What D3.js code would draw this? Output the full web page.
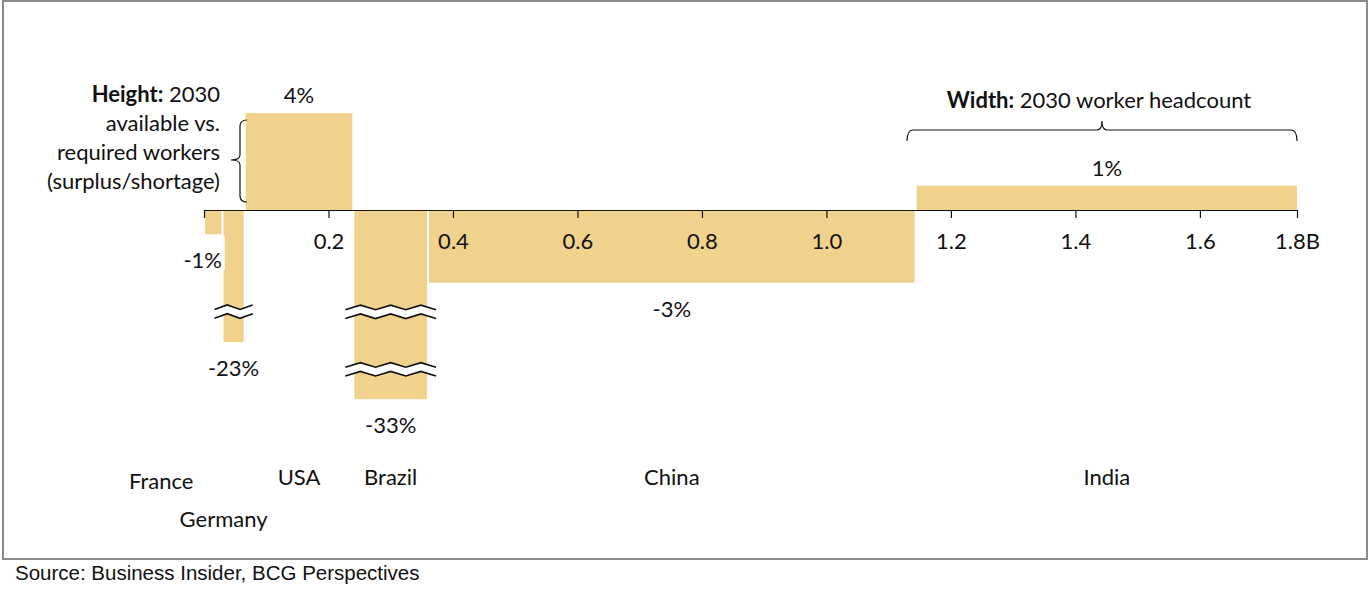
<!DOCTYPE html>
<html>
<head>
<meta charset="utf-8">
<script src="https://cdn.jsdelivr.net/npm/d3@7"></script>
<style>
  html, body { margin: 0; padding: 0; background: #fff; }
  svg { display: block; }
  text { font-family: Lato, "Open Sans", sans-serif; fill: #111; }
  text.source { font-family: "Liberation Sans", Arial, sans-serif; }
</style>
</head>
<body>
<svg id="chart" width="1369" height="595"></svg>
<script>
// ---------------- data ----------------
const countries   = ["France", "Germany", "USA", "Brazil", "China", "India"];
const headcount   = [0.0313, 0.0357, 0.1745, 0.12, 0.7835, 0.611];   // 2030 worker headcount, billions (bar width)
const gapPct      = [-1, -23, 4, -33, -3, 1];                         // 2030 available vs required workers, %
const shownPct    = [-1, -5.45, 4, -7.8, -3, 1];                      // drawn depth after axis breaks
const breakLevels = [[], [-4.19], [], [-4.2, -6.57], [], []];         // where the broken bars are cut
const tickValues  = [0, 0.2, 0.4, 0.6, 0.8, 1.0, 1.2, 1.4, 1.6];
const tickLabels  = ["", "0.2", "0.4", "0.6", "0.8", "1.0", "1.2", "1.4", "1.6"];
const endTickLabel = "1.8B";
const sourceText  = "Source: Business Insider, BCG Perspectives";

// ---------------- layout ----------------
const svg = d3.select("#chart");
const barColor = "#F0D28C";
const total = d3.sum(headcount);

const x = d3.scaleLinear().domain([0, total]).range([204, 1297]);
const y = d3.scaleLinear().domain([0, 4]).range([210, 113]);

// frame
svg.append("rect")
  .attr("x", 3).attr("y", 1).attr("width", 1364).attr("height", 558)
  .attr("fill", "none").attr("stroke", "#8a8a8a").attr("stroke-width", 2);

// cumulative positions
let cum = 0;
const bars = countries.map((c, i) => {
  const d = { name: c, w: headcount[i], v: gapPct[i], shown: shownPct[i], breaks: breakLevels[i], start: cum, i };
  cum += headcount[i];
  d.end = cum;
  return d;
});
const lastIdx = bars.length - 1;
bars.forEach(d => {
  d.x0 = x(d.start) + (d.i === 0 ? 1 : 0);
  d.x1 = x(d.end) - (d.i === lastIdx ? 0 : 2);
  d.cx = (d.x0 + d.x1) / 2;
});

// bars
svg.append("g").selectAll("rect").data(bars).join("rect")
  .attr("x", d => d.x0)
  .attr("width", d => d.x1 - d.x0)
  .attr("y", d => d.shown >= 0 ? y(d.shown) : y(0))
  .attr("height", d => Math.abs(y(d.shown) - y(0)))
  .attr("fill", barColor);

// axis
const allTicks = tickValues.concat([total]);
const allLabels = tickLabels.concat([endTickLabel]);
const axis = d3.axisBottom(x)
  .tickValues(allTicks)
  .tickFormat((d, i) => allLabels[i])
  .tickSize(8)
  .tickPadding(15)
  .tickSizeOuter(0);
const gAxis = svg.append("g").attr("transform", `translate(0,${y(0)})`).call(axis);
gAxis.selectAll("path.domain").attr("stroke", "#111").attr("stroke-width", 1.2);
gAxis.selectAll(".tick line").attr("stroke", "#111").attr("stroke-width", 1.2);
gAxis.selectAll(".tick text")
  .attr("font-family", "Lato, 'Open Sans', sans-serif")
  .attr("font-size", 22).attr("fill", "#111");

// axis breaks
const breakG = svg.append("g");
bars.forEach(d => {
  d.breaks.forEach(b => {
    const c = y(b);
    const xa = d.x0 - 9, xb = d.x1 + 9;
    const n = Math.max(2, Math.round((xb - xa) / 14));
    const seg = (xb - xa) / n;
    const mk = off => d3.range(n + 1).map(k => [xa + k * seg, c + off + (k % 2 ? -2.3 : 2.3)]);
    const l1 = mk(-4.4), l2 = mk(4.4);
    breakG.append("path")
      .attr("d", d3.line()(l1.concat(l2.slice().reverse())) + "Z")
      .attr("fill", "#fff").attr("stroke", "none");
    [l1, l2].forEach(l => breakG.append("path")
      .attr("d", d3.line()(l))
      .attr("fill", "none").attr("stroke", "#111").attr("stroke-width", 1.6));
  });
});

// value labels
const fmt = v => `${v}%`;
const valueNudge = { France: -10.5 };
const labG = svg.append("g");
bars.forEach(d => {
  const lx = d.cx + (valueNudge[d.name] || 0);
  const ly = d.v >= 0 ? y(d.shown) - 10 : y(d.shown) + 34;
  if (d.name === "France") {
    labG.append("rect")
      .attr("x", lx - 21).attr("y", y(d.shown) + 2)
      .attr("width", 43).attr("height", ly + 2 - (y(d.shown) + 2))
      .attr("fill", "#fff");
  }
  labG.append("text")
    .attr("x", lx).attr("y", ly)
    .attr("text-anchor", "middle").attr("font-size", 22)
    .text(fmt(d.v));
});

// country labels
const nameNudge = { France: [-52, 4], Germany: [-10, 42] };
svg.append("g").selectAll("text").data(bars).join("text")
  .attr("x", d => d.cx + ((nameNudge[d.name] || [0, 0])[0]))
  .attr("y", d => 485 + ((nameNudge[d.name] || [0, 0])[1]))
  .attr("text-anchor", "middle").attr("font-size", 22)
  .text(d => d.name);

// height annotation
const hLines = [["Height:", " 2030"], [null, "available vs."], [null, "required workers"], [null, "(surplus/shortage)"]];
hLines.forEach((l, i) => {
  const t = svg.append("text").attr("x", 220).attr("y", 102 + i * 29)
    .attr("text-anchor", "end").attr("font-size", 22);
  if (l[0]) t.append("tspan").attr("font-weight", "bold").text(l[0]);
  t.append("tspan").text(l[1]);
});
svg.append("path")
  .attr("d", "M247,120 Q240,120 240,126 L240,155 Q240,160 231,160 Q240,160 240,165 L240,196 Q240,202 247,202")
  .attr("fill", "none").attr("stroke", "#111").attr("stroke-width", 1.2);

// width annotation
const wt = svg.append("text").attr("x", 1099).attr("y", 108)
  .attr("text-anchor", "middle").attr("font-size", 22);
wt.append("tspan").attr("font-weight", "bold").text("Width:");
wt.append("tspan").text(" 2030 worker headcount");
const bx0 = 907, bx1 = x(total), bm = 1102;
svg.append("path")
  .attr("d", `M${bx0},141 Q${bx0},130 ${bx0 + 6},130 L${bm - 5},130 Q${bm},130 ${bm},121 Q${bm},130 ${bm + 5},130 L${bx1 - 6},130 Q${bx1},130 ${bx1},141`)
  .attr("fill", "none").attr("stroke", "#111").attr("stroke-width", 1.2);

// source
svg.append("text").attr("class", "source").attr("x", 15).attr("y", 580)
  .attr("font-size", 20.5).text(sourceText);
</script>
</body>
</html>
